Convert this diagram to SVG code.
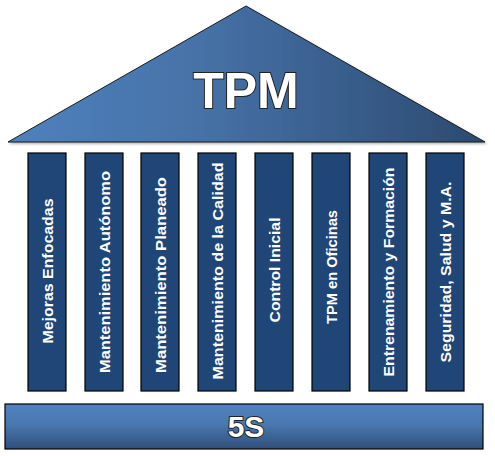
<svg xmlns="http://www.w3.org/2000/svg" width="495" height="456" viewBox="0 0 495 456">
<defs>
<linearGradient id="roofGrad" x1="0" y1="0" x2="1" y2="0">
<stop offset="0" stop-color="#4f81bd"/>
<stop offset="0.4" stop-color="#4672a8"/>
<stop offset="1" stop-color="#2c4a70"/>
</linearGradient>
<linearGradient id="baseGrad" x1="0" y1="0" x2="0" y2="1">
<stop offset="0" stop-color="#5083c0"/>
<stop offset="0.45" stop-color="#4a78b0"/>
<stop offset="1" stop-color="#2f4f7a"/>
</linearGradient>
<filter id="shadow" x="-5%" y="-5%" width="115%" height="115%">
<feDropShadow dx="1.5" dy="1.5" stdDeviation="1" flood-color="#000" flood-opacity="0.3"/>
</filter>
</defs>
<style>
.col{fill:#1f4677;stroke:#000;stroke-width:1.2}
.ct{font-family:"Liberation Sans",Arial,sans-serif;font-weight:bold;font-size:15px;fill:#fff;text-anchor:middle}
.big{font-family:"Liberation Sans",Arial,sans-serif;font-weight:bold;fill:#fff;stroke:#222;stroke-width:2;paint-order:stroke;text-anchor:middle}
</style>
<g id="roof">
<polygon points="246,6 8,142 485,142" fill="url(#roofGrad)" stroke="#1a1a1a" stroke-width="1" filter="url(#shadow)"/>
<text class="big" x="246" y="108" font-size="50">TPM</text>
</g>
<g id="col1"><rect class="col" x="28" y="153" width="38" height="238"/><text class="ct" transform="translate(53,271) rotate(-90)" textLength="145" lengthAdjust="spacingAndGlyphs">Mejoras Enfocadas</text></g>
<g id="col2"><rect class="col" x="85" y="153" width="38" height="238"/><text class="ct" transform="translate(110,272) rotate(-90)" textLength="202" lengthAdjust="spacingAndGlyphs">Mantenimiento Autónomo</text></g>
<g id="col3"><rect class="col" x="141" y="153" width="38" height="238"/><text class="ct" transform="translate(166,275) rotate(-90)" textLength="196" lengthAdjust="spacingAndGlyphs">Mantenimiento Planeado</text></g>
<g id="col4"><rect class="col" x="198" y="153" width="38" height="238"/><text class="ct" transform="translate(223,271) rotate(-90)" textLength="217" lengthAdjust="spacingAndGlyphs">Mantenimiento de la Calidad</text></g>
<g id="col5"><rect class="col" x="255" y="153" width="38" height="238"/><text class="ct" transform="translate(280,270) rotate(-90)" textLength="105" lengthAdjust="spacingAndGlyphs">Control Inicial</text></g>
<g id="col6"><rect class="col" x="312" y="153" width="38" height="238"/><text class="ct" transform="translate(337,267) rotate(-90)" textLength="114" lengthAdjust="spacingAndGlyphs">TPM en Oficinas</text></g>
<g id="col7"><rect class="col" x="369" y="153" width="38" height="238"/><text class="ct" transform="translate(394,272) rotate(-90)" textLength="209" lengthAdjust="spacingAndGlyphs">Entrenamiento y Formación</text></g>
<g id="col8"><rect class="col" x="426" y="153" width="38" height="238"/><text class="ct" transform="translate(451,272) rotate(-90)" textLength="181" lengthAdjust="spacingAndGlyphs">Seguridad, Salud y M.A.</text></g>
<g id="base">
<rect x="5" y="404" width="478" height="45" fill="url(#baseGrad)" stroke="#000" stroke-width="1.2"/>
<text class="big" x="246" y="437" font-size="30" stroke-width="1.6">5S</text>
</g>
<g id="connectors"/>
</svg>
